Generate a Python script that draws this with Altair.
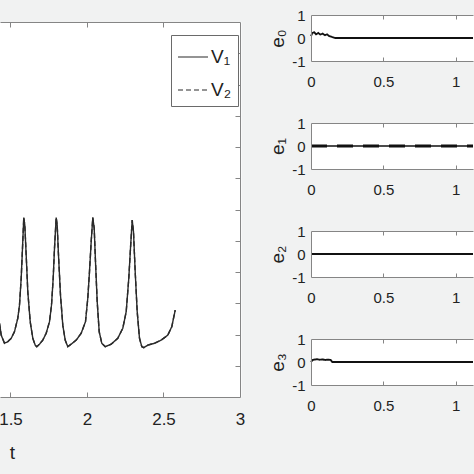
import altair as alt
import pandas as pd

# ---------------- data ----------------
series_names = ["V₁", "V₂"]
v_t = [1.4281, 1.4392, 1.4608, 1.4824, 1.5046, 1.5261, 1.5477, 1.5588, 1.5699, 1.5765,
       1.5830, 1.5869, 1.5935, 1.6026, 1.6131, 1.6288, 1.6458, 1.6614, 1.6719, 1.6895,
       1.7111, 1.7333, 1.7549, 1.7680, 1.7791, 1.7876, 1.7987, 1.8052, 1.8137, 1.8268,
       1.8418, 1.8575, 1.8745, 1.8967, 1.9294, 1.9621, 1.9902, 2.0052, 2.0163, 2.0274,
       2.0379, 2.0471, 2.0556, 2.0667, 2.0797, 2.0967, 2.1190, 2.1582, 2.2013, 2.2340,
       2.2562, 2.2732, 2.2843, 2.2954, 2.3039, 2.3150, 2.3281, 2.3431, 2.3582, 2.3712,
       2.3974, 2.4412, 2.4850, 2.5281, 2.5542, 2.5765]
v_vals = [-56.4, -60.2, -62.8, -62.3, -61.2, -59.1, -54.8, -50.6, -42.0, -34.6,
          -27.1, -22.6, -25.0, -34.6, -46.3, -55.9, -61.2, -63.4, -63.9, -63.1,
          -61.8, -59.6, -55.9, -50.6, -42.0, -32.4, -22.6, -25.0, -34.6, -47.4,
          -57.0, -61.8, -63.9, -63.1, -61.8, -59.6, -55.9, -48.4, -39.9, -30.3,
          -22.6, -26.0, -36.7, -49.5, -59.1, -62.8, -63.9, -63.1, -61.2, -58.0,
          -52.7, -42.0, -32.4, -23.4, -27.1, -39.9, -52.7, -61.2, -63.9, -64.2,
          -63.4, -62.8, -61.8, -60.2, -57.5, -52.2]
left_t_domain = [1.4314, 3.0]
left_v_domain = [-80, 40]
left_x_ticks = [1.5, 2, 2.5, 3]
left_y_ticks = [-70, -60, -50, -40, -30, -20, -10, 0, 10, 20, 30]

e_names = ["e₀", "e₁", "e₂", "e₃"]
e0_t = [0, 0.009, 0.023, 0.035, 0.05, 0.064, 0.081, 0.097, 0.111, 0.124, 0.143, 0.166, 0.4, 0.8, 1.12]
e0_v = [0.08, 0.22, 0.25, 0.16, 0.22, 0.15, 0.19, 0.12, 0.16, 0.09, 0.05, 0.0, 0.0, 0.0, 0.0]
e1_t = [0, 1.12]
e1_v = [0, 0]
e2_t = [0, 1.12]
e2_v = [0, 0]
e3_t = [0, 0.01, 0.02, 0.04, 0.06, 0.08, 0.1, 0.12, 0.135, 0.147, 0.4, 0.8, 1.12]
e3_v = [0.0, 0.08, 0.1, 0.12, 0.1, 0.11, 0.09, 0.1, 0.09, 0.0, 0.0, 0.0, 0.0]
e_t_domain = [0, 1.12]
e_v_domain = [-1, 1]
e_x_ticks = [0, 0.5, 1]
e_y_ticks = [-1, 0, 1]

# ---------------- layout / style ----------------
W = H = 474
FONT = "Liberation Sans"
GREY = "#858585"
TXT = "#222222"
LINE = "#2a2a2a"
BG = "#f1f2f2"

L_X_RANGE = [0, 240]
L_Y_RANGE = [397, 22]          # bottom, top
E_X_RANGE = [311, 473]
E_TOPS = [15, 123, 231, 339]
E_H = 46
TICK = 5
ETICK = 4
Z = 1

layers = []


def blank_axis_layer(df, xf, yf, xs, ys, xaxis, yaxis):
    return alt.Chart(df).mark_line(opacity=0).encode(
        x=alt.X(xf, scale=xs, axis=xaxis), y=alt.Y(yf, scale=ys, axis=yaxis))


def panel_bg(xdom, ydom, xs, ys):
    bg = pd.DataFrame({"x1": [xdom[0]], "x2": [xdom[1] + 0.01], "y1": [ydom[0]], "y2": [ydom[1]]})
    return alt.Chart(bg).mark_rect(fill="white", strokeWidth=0).encode(
        x=alt.X("x1:Q", scale=xs, axis=None), x2="x2:Q",
        y=alt.Y("y1:Q", scale=ys, axis=None), y2="y2:Q")


# ---------------- left panel ----------------
n = len(v_t)
v_df = pd.DataFrame({
    "t": v_t * 2,
    "V": v_vals * 2,
    "series": [series_names[0]] * n + [series_names[1]] * n,
})
lxs = alt.Scale(domain=left_t_domain, range=L_X_RANGE, nice=False, zero=False)
lys = alt.Scale(domain=left_v_domain, range=L_Y_RANGE, nice=False, zero=False)
l_bottom, l_top = L_Y_RANGE
l_right = L_X_RANGE[1]

layers.append(panel_bg(left_t_domain, left_v_domain, lxs, lys))
layers.append(alt.Chart(v_df).mark_line(color=LINE, strokeWidth=1.4).encode(
    x=alt.X("t:Q", scale=lxs, axis=alt.Axis(
        orient="bottom", offset=l_bottom - H, values=left_x_ticks, ticks=False, domain=True,
        labelPadding=14, labelFontSize=17, labelExpr="datum.value + ''",
        labelFlush=False, labelOverlap=False, zindex=Z,
        title="t", titleFontSize=19, titleFontWeight="normal", titleX=12, titleY=61,
        titleAlign="center", titleBaseline="alphabetic")),
    y=alt.Y("V:Q", scale=lys, axis=alt.Axis(
        orient="right", offset=l_right - W, ticks=False, labels=False, domain=True, title=None, zindex=Z)),
    strokeDash=alt.StrokeDash("series:N", scale=alt.Scale(domain=series_names, range=[[1, 0], [5, 3]]),
                              legend=alt.Legend(
                                  title=None, orient="none", legendX=171, legendY=35, direction="vertical",
                                  symbolType="stroke", symbolSize=900, symbolStrokeWidth=1.2,
                                  symbolStrokeColor=LINE, labelFont=FONT, labelFontSize=19,
                                  labelColor=TXT, labelOffset=2, rowPadding=7, padding=6,
                                  strokeColor="#6a6a6a", fillColor="white", cornerRadius=0, zindex=2)),
))
# inward ticks bottom + right
layers.append(blank_axis_layer(
    v_df, "t:Q", "V:Q", lxs, lys,
    alt.Axis(orient="bottom", offset=l_bottom - TICK - H, ticks=True, tickSize=TICK, values=left_x_ticks[:-1],
             labels=False, domain=False, title=None, zindex=Z),
    alt.Axis(orient="right", offset=l_right - TICK - W, ticks=True, tickSize=TICK, values=left_y_ticks,
             labels=False, domain=False, title=None, zindex=Z)))
# top border + inward top ticks
layers.append(blank_axis_layer(
    v_df, "t:Q", "V:Q", lxs, lys,
    alt.Axis(orient="top", offset=-l_top, ticks=False, labels=False, domain=True, title=None, zindex=Z), None))
layers.append(blank_axis_layer(
    v_df, "t:Q", "V:Q", lxs, lys,
    alt.Axis(orient="top", offset=-(l_top + TICK), ticks=True, tickSize=TICK, values=left_x_ticks[:-1],
             labels=False, domain=False, title=None, zindex=Z), None))

# ---------------- right panels ----------------
e_series = [(e0_t, e0_v, [(1.8, [1, 0])]),
            (e1_t, e1_v, [(1.3, [1, 0]), (2.8, [16, 10])]),
            (e2_t, e2_v, [(2.0, [1, 0])]),
            (e3_t, e3_v, [(1.9, [1, 0])])]

for k, (tt, vv, styles) in enumerate(e_series):
    top = E_TOPS[k]
    bottom = top + E_H
    df = pd.DataFrame({"t": tt, "e": vv})
    xs = alt.Scale(domain=e_t_domain, range=E_X_RANGE, nice=False, zero=False)
    ys = alt.Scale(domain=e_v_domain, range=[bottom, top], nice=False, zero=False)
    layers.append(panel_bg(e_t_domain, e_v_domain, xs, ys))
    for i, (sw, dash) in enumerate(styles):
        if i == 0:
            xa = alt.Axis(orient="bottom", offset=bottom - H, values=e_x_ticks, ticks=False, domain=True,
                          labelPadding=13, labelFontSize=15, labelExpr="datum.value + ''",
                          labelFlush=False, labelOverlap=False, title=None, zindex=Z)
            ya = alt.Axis(orient="left", offset=-E_X_RANGE[0], values=e_y_ticks, ticks=False, domain=True,
                          labelPadding=6, labelFontSize=15, labelExpr="datum.value + ''",
                          labelOverlap=False, labelFlush=False, zindex=Z,
                          title=e_names[k], titleFontSize=19, titleFontWeight="normal", titlePadding=4)
        else:
            xa = None
            ya = None
        layers.append(alt.Chart(df).mark_line(color="#111", strokeWidth=sw, strokeDash=dash).encode(
            x=alt.X("t:Q", scale=xs, axis=xa),
            y=alt.Y("e:Q", scale=ys, axis=ya)))
    layers.append(blank_axis_layer(
        df, "t:Q", "e:Q", xs, ys,
        alt.Axis(orient="bottom", offset=bottom - ETICK - H, ticks=True, tickSize=ETICK, values=e_x_ticks[1:],
                 labels=False, domain=False, title=None, zindex=Z), None))
    layers.append(blank_axis_layer(
        df, "t:Q", "e:Q", xs, ys,
        alt.Axis(orient="top", offset=-top, ticks=False, labels=False, domain=True, title=None, zindex=Z), None))
    layers.append(blank_axis_layer(
        df, "t:Q", "e:Q", xs, ys,
        alt.Axis(orient="top", offset=-(top + ETICK), ticks=True, tickSize=ETICK, values=e_x_ticks[1:],
                 labels=False, domain=False, title=None, zindex=Z), None))

chart = alt.layer(*layers).resolve_scale(
    x="independent", y="independent"
).resolve_axis(
    x="independent", y="independent"
).properties(
    width=W, height=H, padding=0,
    autosize=alt.AutoSizeParams(type="none"),
    background=BG,
).configure_view(stroke=None).configure_axis(
    grid=False, domainColor=GREY, tickColor=GREY, labelFont=FONT, titleFont=FONT,
    labelColor=TXT, titleColor=TXT, domainWidth=1, tickWidth=1,
)

chart.save("out.html", embed_options={"renderer": "svg", "actions": False})
